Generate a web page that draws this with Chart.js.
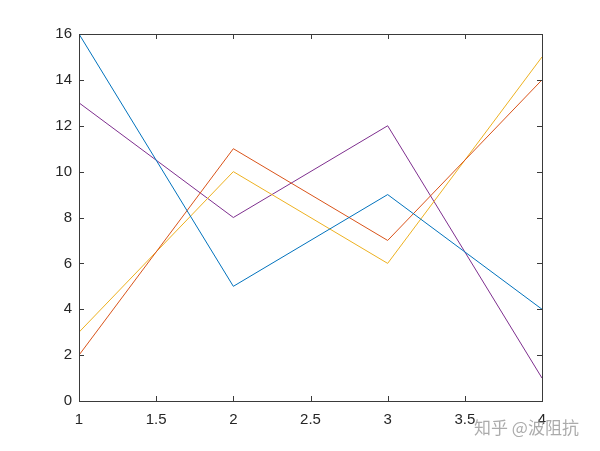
<!DOCTYPE html>
<html lang="en">

<head>
    <meta charset="UTF-8">
    <title>magic(4) plot</title>
    <script src="https://cdn.jsdelivr.net/npm/chart.js"></script>
    <style>
        html, body { margin: 0; padding: 0; background: #fff; }
        #wrap { width: 600px; height: 451px; }
    </style>
</head>

<body>
    <div id="wrap"><canvas id="myChart" width="600" height="451"></canvas></div>

    <script>
        // data: columns of magic(4), plotted against x = 1..4
        var xValues = [1, 2, 3, 4];
        var series1 = [16, 5, 9, 4];
        var series2 = [2, 11, 7, 14];
        var series3 = [3, 10, 6, 15];
        var series4 = [13, 8, 12, 1];
        var xTicks = [1, 1.5, 2, 2.5, 3, 3.5, 4];
        var yTicks = [0, 2, 4, 6, 8, 10, 12, 14, 16];

        var colors = ['#0072BD', '#D95319', '#EDB120', '#7E2F8E'];
        var axisColor = '#3a3a3a';

        function toPoints(ys) {
            return xValues.map(function (x, i) { return { x: x, y: ys[i] }; });
        }

        // box around the axes + inward ticks on all four sides, MATLAB style
        var boxPlugin = {
            id: 'box',
            afterDraw: function (chart) {
                var ctx = chart.ctx;
                var a = chart.chartArea;
                var xs = chart.scales.x, ys = chart.scales.y;
                var len = 5;
                ctx.save();
                ctx.strokeStyle = axisColor;
                ctx.lineWidth = 1;
                ctx.strokeRect(Math.round(a.left) + 0.5, Math.round(a.top) + 0.5,
                    Math.round(a.right - a.left), Math.round(a.bottom - a.top));
                ctx.beginPath();
                xTicks.forEach(function (v) {
                    var px = Math.round(xs.getPixelForValue(v)) + 0.5;
                    ctx.moveTo(px, a.bottom); ctx.lineTo(px, a.bottom - len);
                    ctx.moveTo(px, a.top); ctx.lineTo(px, a.top + len);
                });
                yTicks.forEach(function (v) {
                    var py = Math.round(ys.getPixelForValue(v)) + 0.5;
                    ctx.moveTo(a.left, py); ctx.lineTo(a.left + len, py);
                    ctx.moveTo(a.right, py); ctx.lineTo(a.right - len, py);
                });
                ctx.stroke();

                // watermark
                ctx.font = '17px "Noto Sans CJK SC", sans-serif';
                ctx.fillStyle = 'rgba(150,150,150,0.8)';
                ctx.textAlign = 'left';
                ctx.textBaseline = 'middle';
                ctx.fillText('知乎 @波阻抗', 474, 428);
                ctx.restore();
            }
        };

        var ctx = document.getElementById('myChart').getContext('2d');
        var myChart = new Chart(ctx, {
            type: 'line',
            data: {
                datasets: [series1, series2, series3, series4].map(function (s, i) {
                    return {
                        data: toPoints(s),
                        borderColor: colors[i],
                        borderWidth: 1,
                        pointRadius: 0,
                        fill: false,
                        tension: 0
                    };
                })
            },
            options: {
                responsive: false,
                animation: false,
                layout: { padding: { left: 0, right: 58, top: 34, bottom: 0 } },
                plugins: { legend: { display: false }, tooltip: { enabled: false } },
                scales: {
                    x: {
                        type: 'linear',
                        min: 1,
                        max: 4,
                        afterFit: function (s) { s.height = 50; },
                        afterBuildTicks: function (s) { s.ticks = xTicks.map(function (v) { return { value: v }; }); },
                        grid: { display: false, drawTicks: false },
                        border: { display: false },
                        ticks: {
                            padding: 10,
                            color: '#262626',
                            maxRotation: 0,
                            callback: function (v) { return String(v); },
                            font: { family: 'Liberation Sans', size: 15 }
                        }
                    },
                    y: {
                        min: 0,
                        max: 16,
                        afterFit: function (s) { s.width = 79; },
                        afterBuildTicks: function (s) { s.ticks = yTicks.map(function (v) { return { value: v }; }); },
                        grid: { display: false, drawTicks: false },
                        border: { display: false },
                        ticks: {
                            padding: 7,
                            color: '#262626',
                            callback: function (v) { return String(v); },
                            font: { family: 'Liberation Sans', size: 15 }
                        }
                    }
                }
            },
            plugins: [boxPlugin]
        });
    </script>
</body>

</html>
